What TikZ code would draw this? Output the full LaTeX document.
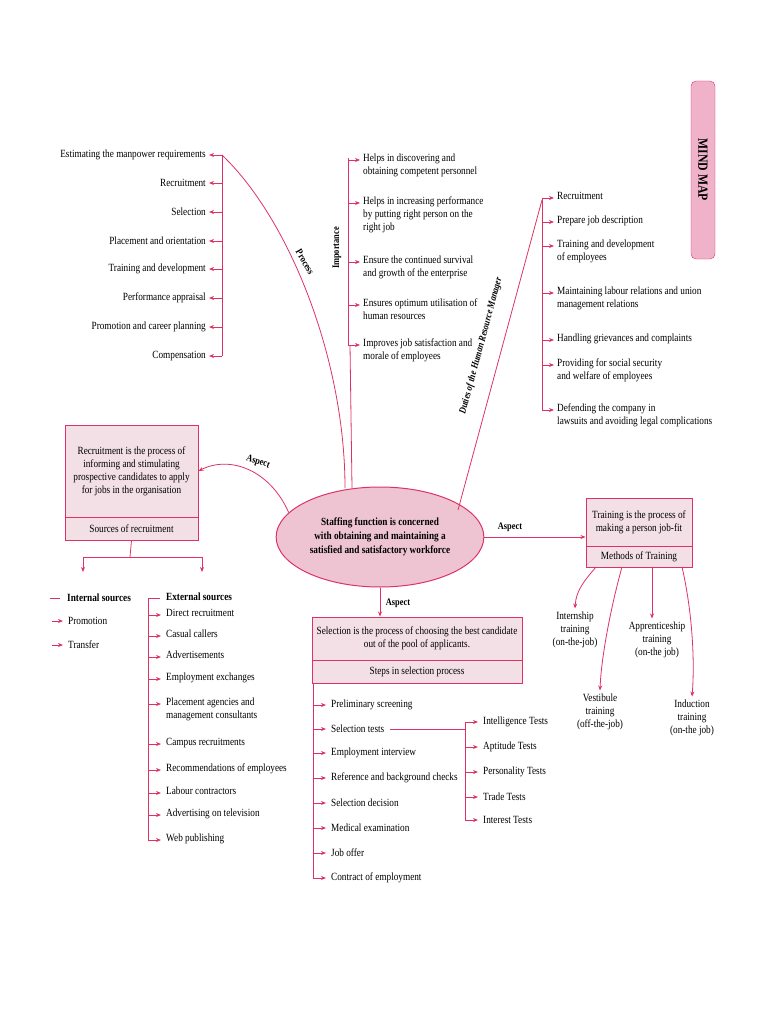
\documentclass[tikz,border=0pt]{standalone}
\usepackage{fontspec}
\setmainfont[FakeStretch=0.84]{Liberation Serif}
\usetikzlibrary{arrows.meta,shapes.geometric}
\definecolor{pk}{RGB}{222,50,100}
\definecolor{pkfill}{RGB}{238,196,210}
\definecolor{boxfill}{RGB}{243,224,231}
\definecolor{mmfill}{RGB}{240,178,200}
\begin{document}
\begin{tikzpicture}[x=1pt,y=-1pt,
  ln/.style={draw=pk,line width=0.8pt},
  ar/.style={draw=pk,line width=0.8pt,-{Stealth[length=5pt,width=4pt]}},
  itm/.style={font=\fontsize{11}{13}\selectfont,anchor=west,inner sep=1pt,align=left},
  itr/.style={font=\fontsize{11}{13}\selectfont,anchor=east,inner sep=1pt},
  lbl/.style={font=\fontsize{10}{12}\selectfont\bfseries},
  bx/.style={draw=pk,line width=1pt,fill=boxfill},
  txt/.style={font=\fontsize{11}{13}\selectfont,align=center}]
\useasboundingbox (0,0) rectangle (768,1024);
% Mind map tab
\node[draw=pk,fill=mmfill,rounded corners=5pt,minimum width=24pt,minimum height=178pt] (mm) at (703,170) {};
\node[rotate=-90,font=\fontsize{14}{16}\selectfont\bfseries] at (703,170) {MIND MAP};
% Central ellipse
\node[ellipse,draw=pk,line width=1pt,fill=pkfill,minimum width=164pt,minimum height=100pt,align=center,font=\fontsize{11}{14}\selectfont\bfseries] (c) at (380,537)
 {Staffing function is concerned\\with obtaining and maintaining a\\satisfied and satisfactory workforce};
% Process list
\coordinate (pt) at (222,155);
\draw[ln] (pt) -- (222,356);
\foreach \y/\t in {155/Estimating the manpower requirements,183/Recruitment,212/Selection,241/Placement and orientation,269/Training and development,298/Performance appraisal,327/Promotion and career planning,356/Compensation}{
  \coordinate (p\y) at (209,\y);
  \draw[ar] (222,\y) -- (p\y);
  \node[itr] at (207,\y) {\t};}
\draw[ln] (pt) .. controls (290,220) and (345,360) .. (345,488);
\node[lbl,rotate=-60] at (305,262) {Process};
% Importance
\coordinate (it) at (348,158);
\draw[ln] (it) -- (348,345);
\draw[ln] (350,345) -- (352,488);
\node[lbl,rotate=90] at (337,248) {Importance};
\foreach \y/\t in {160/{Helps in discovering and\\obtaining competent personnel},203/{Helps in increasing performance\\by putting right person on the\\right job},262/{Ensure the continued survival\\and growth of the enterprise},305/{Ensures optimum utilisation of\\human resources},345/{Improves job satisfaction and\\morale of employees}}{
  \coordinate (i\y) at (360,\y);
  \draw[ar] (348,\y) -- (i\y);
  \node[itm,anchor=north west] at (362,\y-7) {\t};}
% Duties
\draw[ln] (542,198) -- (542,410);
\draw[ln] (458,510) -- (542,200);
\node[font=\fontsize{10}{12}\selectfont\bfseries\itshape,rotate=75] at (481,346) {Duties of the Human Resource Manager};
\foreach \y/\t in {198/{Recruitment},222/{Prepare job description},246/{Training and development\\of employees},293/{Maintaining labour relations and union\\management relations},340/{Handling grievances and complaints},365/{Providing for social security\\and welfare of employees},410/{Defending the company in\\lawsuits and avoiding legal complications}}{
  \coordinate (d\y) at (554,\y);
  \draw[ar] (542,\y) -- (d\y);
  \node[itm,anchor=north west] at (556,\y-7) {\t};}
% Recruitment box
\node[bx,minimum width=133pt,minimum height=92pt,txt] (rb) at (131.5,471) {Recruitment is the process of\\informing and stimulating\\prospective candidates to apply\\for jobs in the organisation};
\node[bx,minimum width=133pt,minimum height=23pt,txt] (rs) at (131.5,528.5) {Sources of recruitment};
\draw[ar] (c.165) .. controls (270,470) and (230,455) .. (rb.east);
\node[lbl,rotate=-18] at (258,462) {Aspect};
\draw[ln] (rs.south) -- (130,557);
\draw[ln] (83,557) -- (202,557);
\coordinate (ri) at (83,572); \coordinate (re) at (202,572);
\draw[ar] (83,557) -- (ri);
\draw[ar] (202,557) -- (re);
\draw[ln] (50,598) -- (60,598);
\node[itm,font=\fontsize{11}{13}\selectfont\bfseries] at (66,598) {Internal sources};
\foreach \y/\t in {621/Promotion,645/Transfer}{
  \coordinate (n\y) at (63,\y);
  \draw[ar] (52,\y) -- (n\y);
  \node[itm] at (67,\y) {\t};}
\draw[ln] (148,598) -- (148,840);
\draw[ln] (148,598) -- (160,598);
\node[itm,font=\fontsize{11}{13}\selectfont\bfseries] at (165,597) {External sources};
\foreach \y/\t in {615/Direct recruitment,636/Casual callers,657/Advertisements,679/Employment exchanges,704/{Placement agencies and\\management consultants},744/Campus recruitments,770/Recommendations of employees,793/Labour contractors,815/Advertising on television,840/Web publishing}{
  \coordinate (e\y) at (161,\y);
  \draw[ar] (148,\y) -- (e\y);
  \node[itm,anchor=north west] at (165,\y-7) {\t};}
% Selection box
\node[bx,minimum width=210pt,minimum height=43pt,txt,inner sep=1pt] (sb) at (417,638.5) {Selection is the process of choosing the best candidate\\out of the pool of applicants.};
\node[bx,minimum width=210pt,minimum height=23pt,txt] (ss) at (417,671.5) {Steps in selection process};
\draw[ar] (c.south) -- (c.south |- sb.north);
\node[lbl] at (398,603) {Aspect};
\draw[ln] (313,683) -- (313,878);
\foreach \y/\t in {705/Preliminary screening,729/Selection tests,753/Employment interview,778/Reference and background checks,803/Selection decision,828/Medical examination,853/Job offer,878/Contract of employment}{
  \coordinate (s\y) at (326,\y);
  \draw[ar] (313,\y) -- (s\y);
  \node[itm] at (330,\y) {\t};}
\draw[ln] (390,729) -- (465,729);
\draw[ln] (465,722) -- (465,820);
\foreach \y/\t in {722/Intelligence Tests,747/Aptitude Tests,772/Personality Tests,797/Trade Tests,820/Interest Tests}{
  \coordinate (t\y) at (478,\y);
  \draw[ar] (465,\y) -- (t\y);
  \node[itm] at (482,\y) {\t};}
% Training box
\node[bx,minimum width=106pt,minimum height=48pt,txt] (tb) at (639,522) {Training is the process of\\making a person job-fit};
\node[bx,minimum width=106pt,minimum height=21pt,txt] (tm) at (639,556.5) {Methods of Training};
\draw[ar] (c.east) -- (c.east -| tb.west);
\node[lbl] at (510,527) {Aspect};
\node[txt] (m1) at (575,630) {Internship\\training\\(on-the-job)};
\node[txt] (m2) at (657,640) {Apprenticeship\\training\\(on-the job)};
\node[txt] (m3) at (600,712) {Vestibule\\training\\(off-the-job)};
\node[txt] (m4) at (692,718) {Induction\\training\\(on-the job)};
\draw[ar] (596,567) .. controls (585,580) and (576,590) .. (m1.north);
\draw[ar] (652,567) -- (m2.north -| 652,0);
\draw[ar] (622,567) .. controls (610,610) and (601,660) .. (m3.north);
\draw[ar] (682,567) .. controls (692,610) and (695,660) .. (m4.north);
\end{tikzpicture}
\end{document}
